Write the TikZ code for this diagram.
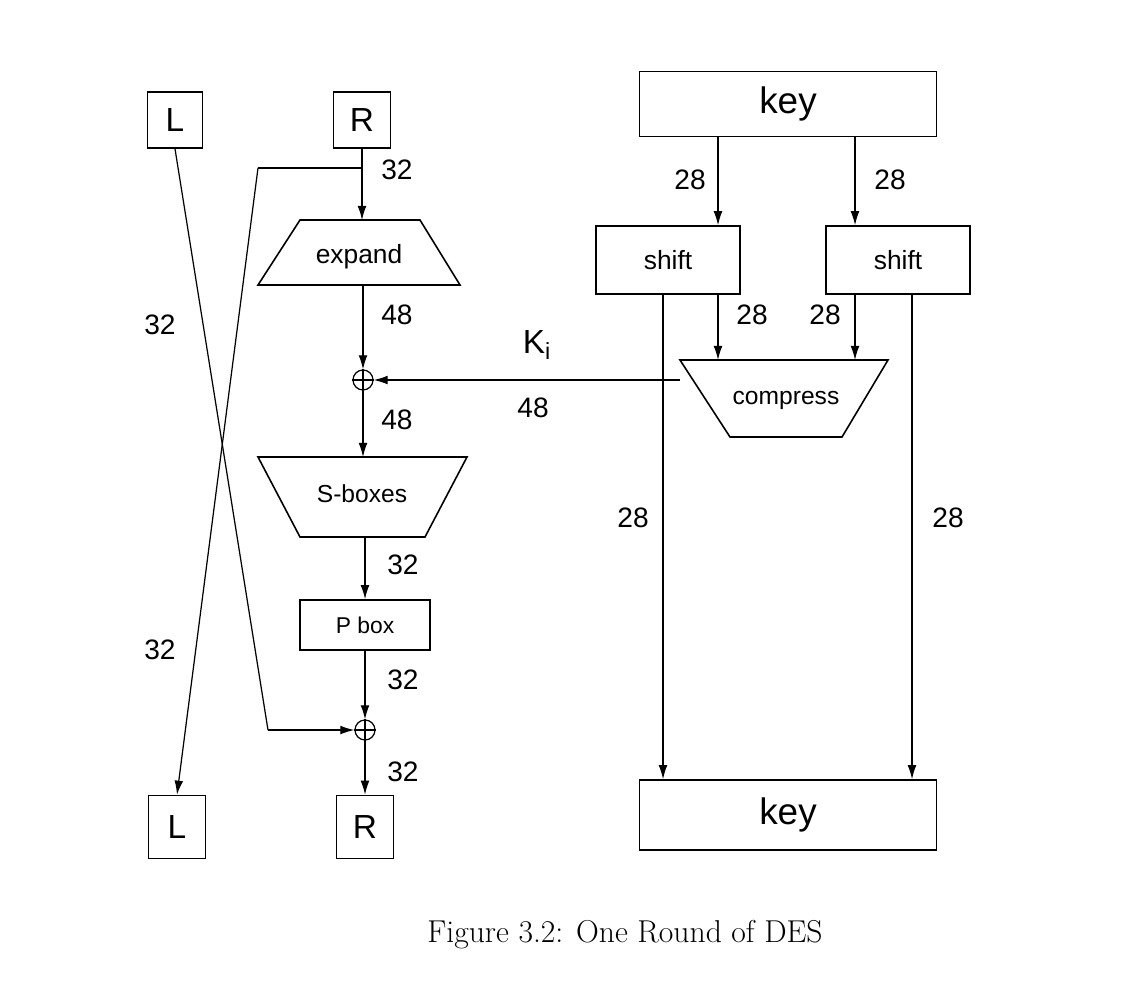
\documentclass[tikz,border=0pt]{standalone}
\usepackage{fontspec}
\newfontfamily\hv{Liberation Sans}
\usetikzlibrary{arrows.meta}
\begin{document}
\begin{tikzpicture}[x=0.02cm,y=-0.02cm,
  every node/.style={font=\hv},
  box/.style={draw,line width=0.9pt,inner sep=0},
  ln/.style={line width=0.7pt},
  ar/.style={ln,-{Latex[length=8pt,width=5pt]}},
  num/.style={font=\hv\fontsize{16}{18}\selectfont}]
\useasboundingbox (0,0) rectangle (1126,984);
% boxes
\node[box,minimum width=55*0.02cm,minimum height=56*0.02cm,font=\hv\fontsize{19}{20}\selectfont] (Lt) at (175,120) {L};
\node[box,minimum width=57*0.02cm,minimum height=56*0.02cm,font=\hv\fontsize{19}{20}\selectfont] (Rt) at (362,120) {R};
\node[box,minimum width=57*0.02cm,minimum height=63*0.02cm,font=\hv\fontsize{19}{20}\selectfont] (Lb) at (177,827) {L};
\node[box,minimum width=57*0.02cm,minimum height=63*0.02cm,font=\hv\fontsize{19}{20}\selectfont] (Rb) at (365,827) {R};
\node[box,minimum width=297*0.02cm,minimum height=65*0.02cm,font=\hv\fontsize{21}{22}\selectfont] (kt) at (788,104) {key};
\node[box,minimum width=297*0.02cm,minimum height=70*0.02cm,font=\hv\fontsize{21}{22}\selectfont] (kb) at (788,815) {key};
\node[box,minimum width=144*0.02cm,minimum height=68*0.02cm,font=\hv\fontsize{15}{16}\selectfont] (s1) at (668,260) {shift};
\node[box,minimum width=144*0.02cm,minimum height=68*0.02cm,font=\hv\fontsize{15}{16}\selectfont] (s2) at (898,260) {shift};
\node[box,minimum width=130*0.02cm,minimum height=50*0.02cm,font=\hv\fontsize{13}{14}\selectfont] (pb) at (365,625) {P box};
% trapezoids
\draw[line width=0.9pt] (300,220) -- (420,220) -- (460,285) -- (258,285) -- cycle;
\node[font=\hv\fontsize{15}{16}\selectfont] (ex) at (359,257) {expand};
\draw[line width=0.9pt] (258,457) -- (467,457) -- (425,537) -- (300,537) -- cycle;
\node[font=\hv\fontsize{14}{16}\selectfont] (sb) at (362,494) {S-boxes};
\draw[line width=0.9pt] (680,360) -- (888,360) -- (842,437) -- (730,437) -- cycle;
\node[font=\hv\fontsize{14}{16}\selectfont] (cp) at (786,400) {compress};
% xors
\node[draw,circle,line width=0.7pt,minimum size=20*0.02cm,inner sep=0] (x1) at (363,380) {};
\draw[ln] (x1.north)--(x1.south) (x1.west)--(x1.east);
\node[draw,circle,line width=0.7pt,minimum size=20*0.02cm,inner sep=0] (x2) at (365,730) {};
\draw[ln] (x2.north)--(x2.south) (x2.west)--(x2.east);
% coordinates
\coordinate (ext) at (362,220); \coordinate (exb) at (363,285);
\coordinate (sbt) at (363,457); \coordinate (sbb) at (365,537);
\coordinate (cl) at (680,380);
\coordinate (c1) at (718,360); \coordinate (c2) at (855,360);
\coordinate (sp) at (362,168); \coordinate (bk) at (258,168);
\coordinate (lk) at (268,730);
% connectors
\draw[ar] (Rt.south) -- (ext);
\draw[ln] (sp) -- (bk);
\draw[ar] (bk) -- (Lb.north);
\draw[ln] (Lt.south) -- (lk);
\draw[ar] (lk) -- (x2.west);
\draw[ar] (exb) -- (x1.north);
\draw[ar] (x1.south) -- (sbt);
\draw[ar] (sbb) -- (pb.north);
\draw[ar] (pb.south) -- (x2.north);
\draw[ar] (x2.south) -- (Rb.north);
\draw[ar] (cl) -- (x1.east);
\draw[ar] (kt.south -| c1) -- (s1.north -| c1);
\draw[ar] (kt.south -| c2) -- (s2.north -| c2);
\draw[ar] (s1.south -| c1) -- (c1);
\draw[ar] (s2.south -| c2) -- (c2);
\draw[ar] (s1.south -| 663,0) -- (kb.north -| 663,0);
\draw[ar] (s2.south -| 912,0) -- (kb.north -| 912,0);
% labels
\node[num] at (397,170) {32};
\node[num] at (160,325) {32};
\node[num] at (160,650) {32};
\node[num] at (397,315) {48};
\node[num] at (397,420) {48};
\node[num] at (403,565) {32};
\node[num] at (403,680) {32};
\node[num] at (403,772) {32};
\node[font=\hv\fontsize{19}{20}\selectfont] at (537,345) {K\textsubscript{i}};
\node[num] at (533,408) {48};
\node[num] at (690,180) {28};
\node[num] at (890,180) {28};
\node[num] at (752,315) {28};
\node[num] at (825,315) {28};
\node[num] at (633,518) {28};
\node[num] at (948,518) {28};
\node[font=\rmfamily\fontsize{18}{20}\selectfont] (cap) at (625,935) {Figure 3.2: One Round of DES};
\end{tikzpicture}
\end{document}
